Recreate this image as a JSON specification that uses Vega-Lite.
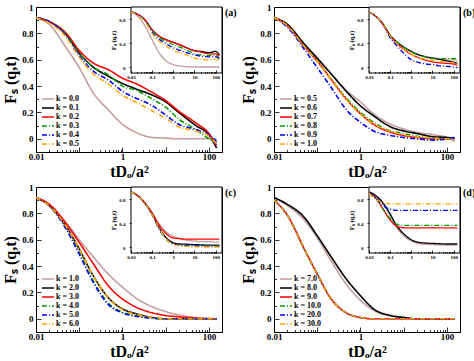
{
"$schema": "https://vega.github.io/schema/vega-lite/v6.json",
"padding": {"left": 2, "top": 2, "right": 0, "bottom": 0},
"background": "white",
"columns": 2,
"spacing": {"row": 35, "column": 52},
"bounds": "flush",
"data": {"values": [
{"p":"a","m":"M","k":"0.0","t":0.01,"f":0.92},{"p":"a","m":"M","k":"0.0","t":0.02,"f":0.87},{"p":"a","m":"M","k":"0.0","t":0.05,"f":0.69},{"p":"a","m":"M","k":"0.0","t":0.1,"f":0.54},{"p":"a","m":"M","k":"0.0","t":0.2,"f":0.36},{"p":"a","m":"M","k":"0.0","t":0.5,"f":0.21},{"p":"a","m":"M","k":"0.0","t":1,"f":0.11},{"p":"a","m":"M","k":"0.0","t":2,"f":0.05},{"p":"a","m":"M","k":"0.0","t":5,"f":0.01},{"p":"a","m":"M","k":"0.0","t":10,"f":0.005},{"p":"a","m":"M","k":"0.0","t":20,"f":0},{"p":"a","m":"M","k":"0.0","t":50,"f":0},{"p":"a","m":"M","k":"0.0","t":100,"f":0},{"p":"a","m":"M","k":"0.0","t":150,"f":0},
{"p":"a","m":"M","k":"0.1","t":0.01,"f":0.92},{"p":"a","m":"M","k":"0.1","t":0.02,"f":0.89},{"p":"a","m":"M","k":"0.1","t":0.05,"f":0.79},{"p":"a","m":"M","k":"0.1","t":0.1,"f":0.65},{"p":"a","m":"M","k":"0.1","t":0.2,"f":0.55},{"p":"a","m":"M","k":"0.1","t":0.5,"f":0.47},{"p":"a","m":"M","k":"0.1","t":1,"f":0.42},{"p":"a","m":"M","k":"0.1","t":2,"f":0.38},{"p":"a","m":"M","k":"0.1","t":5,"f":0.33},{"p":"a","m":"M","k":"0.1","t":10,"f":0.28},{"p":"a","m":"M","k":"0.1","t":20,"f":0.2},{"p":"a","m":"M","k":"0.1","t":50,"f":0.1},{"p":"a","m":"M","k":"0.1","t":100,"f":0.03},{"p":"a","m":"M","k":"0.1","t":150,"f":-0.07},
{"p":"a","m":"M","k":"0.2","t":0.01,"f":0.92},{"p":"a","m":"M","k":"0.2","t":0.02,"f":0.89},{"p":"a","m":"M","k":"0.2","t":0.05,"f":0.8},{"p":"a","m":"M","k":"0.2","t":0.1,"f":0.67},{"p":"a","m":"M","k":"0.2","t":0.2,"f":0.58},{"p":"a","m":"M","k":"0.2","t":0.5,"f":0.52},{"p":"a","m":"M","k":"0.2","t":1,"f":0.46},{"p":"a","m":"M","k":"0.2","t":2,"f":0.42},{"p":"a","m":"M","k":"0.2","t":5,"f":0.35},{"p":"a","m":"M","k":"0.2","t":10,"f":0.29},{"p":"a","m":"M","k":"0.2","t":20,"f":0.21},{"p":"a","m":"M","k":"0.2","t":50,"f":0.12},{"p":"a","m":"M","k":"0.2","t":100,"f":0.04},{"p":"a","m":"M","k":"0.2","t":150,"f":-0.05},
{"p":"a","m":"M","k":"0.3","t":0.01,"f":0.92},{"p":"a","m":"M","k":"0.3","t":0.02,"f":0.89},{"p":"a","m":"M","k":"0.3","t":0.05,"f":0.79},{"p":"a","m":"M","k":"0.3","t":0.1,"f":0.65},{"p":"a","m":"M","k":"0.3","t":0.2,"f":0.55},{"p":"a","m":"M","k":"0.3","t":0.5,"f":0.48},{"p":"a","m":"M","k":"0.3","t":1,"f":0.4},{"p":"a","m":"M","k":"0.3","t":2,"f":0.37},{"p":"a","m":"M","k":"0.3","t":5,"f":0.3},{"p":"a","m":"M","k":"0.3","t":10,"f":0.24},{"p":"a","m":"M","k":"0.3","t":20,"f":0.15},{"p":"a","m":"M","k":"0.3","t":50,"f":0.07},{"p":"a","m":"M","k":"0.3","t":100,"f":0},{"p":"a","m":"M","k":"0.3","t":150,"f":-0.03},
{"p":"a","m":"M","k":"0.4","t":0.01,"f":0.92},{"p":"a","m":"M","k":"0.4","t":0.02,"f":0.89},{"p":"a","m":"M","k":"0.4","t":0.05,"f":0.78},{"p":"a","m":"M","k":"0.4","t":0.1,"f":0.63},{"p":"a","m":"M","k":"0.4","t":0.2,"f":0.52},{"p":"a","m":"M","k":"0.4","t":0.5,"f":0.44},{"p":"a","m":"M","k":"0.4","t":1,"f":0.36},{"p":"a","m":"M","k":"0.4","t":2,"f":0.31},{"p":"a","m":"M","k":"0.4","t":5,"f":0.25},{"p":"a","m":"M","k":"0.4","t":10,"f":0.18},{"p":"a","m":"M","k":"0.4","t":20,"f":0.11},{"p":"a","m":"M","k":"0.4","t":50,"f":0.07},{"p":"a","m":"M","k":"0.4","t":100,"f":0.03},{"p":"a","m":"M","k":"0.4","t":150,"f":-0.02},
{"p":"a","m":"M","k":"0.5","t":0.01,"f":0.92},{"p":"a","m":"M","k":"0.5","t":0.02,"f":0.88},{"p":"a","m":"M","k":"0.5","t":0.05,"f":0.77},{"p":"a","m":"M","k":"0.5","t":0.1,"f":0.62},{"p":"a","m":"M","k":"0.5","t":0.2,"f":0.5},{"p":"a","m":"M","k":"0.5","t":0.5,"f":0.41},{"p":"a","m":"M","k":"0.5","t":1,"f":0.33},{"p":"a","m":"M","k":"0.5","t":2,"f":0.28},{"p":"a","m":"M","k":"0.5","t":5,"f":0.21},{"p":"a","m":"M","k":"0.5","t":10,"f":0.155},{"p":"a","m":"M","k":"0.5","t":20,"f":0.09},{"p":"a","m":"M","k":"0.5","t":50,"f":0.06},{"p":"a","m":"M","k":"0.5","t":100,"f":0.02},{"p":"a","m":"M","k":"0.5","t":150,"f":-0.04},
{"p":"a","m":"I","k":"0.0","t":0.01,"f":0.92},{"p":"a","m":"I","k":"0.0","t":0.02,"f":0.85},{"p":"a","m":"I","k":"0.0","t":0.05,"f":0.66},{"p":"a","m":"I","k":"0.0","t":0.1,"f":0.45},{"p":"a","m":"I","k":"0.0","t":0.2,"f":0.25},{"p":"a","m":"I","k":"0.0","t":0.5,"f":0.09},{"p":"a","m":"I","k":"0.0","t":1,"f":0.04},{"p":"a","m":"I","k":"0.0","t":2,"f":0.015},{"p":"a","m":"I","k":"0.0","t":5,"f":0.005},{"p":"a","m":"I","k":"0.0","t":10,"f":0},{"p":"a","m":"I","k":"0.0","t":20,"f":0},{"p":"a","m":"I","k":"0.0","t":50,"f":0},{"p":"a","m":"I","k":"0.0","t":100,"f":0},{"p":"a","m":"I","k":"0.0","t":150,"f":0},
{"p":"a","m":"I","k":"0.1","t":0.01,"f":0.92},{"p":"a","m":"I","k":"0.1","t":0.02,"f":0.88},{"p":"a","m":"I","k":"0.1","t":0.05,"f":0.77},{"p":"a","m":"I","k":"0.1","t":0.1,"f":0.62},{"p":"a","m":"I","k":"0.1","t":0.2,"f":0.52},{"p":"a","m":"I","k":"0.1","t":0.5,"f":0.45},{"p":"a","m":"I","k":"0.1","t":1,"f":0.41},{"p":"a","m":"I","k":"0.1","t":2,"f":0.37},{"p":"a","m":"I","k":"0.1","t":5,"f":0.31},{"p":"a","m":"I","k":"0.1","t":10,"f":0.27},{"p":"a","m":"I","k":"0.1","t":20,"f":0.26},{"p":"a","m":"I","k":"0.1","t":50,"f":0.24},{"p":"a","m":"I","k":"0.1","t":100,"f":0.26},{"p":"a","m":"I","k":"0.1","t":150,"f":0.2},
{"p":"a","m":"I","k":"0.2","t":0.01,"f":0.92},{"p":"a","m":"I","k":"0.2","t":0.02,"f":0.88},{"p":"a","m":"I","k":"0.2","t":0.05,"f":0.77},{"p":"a","m":"I","k":"0.2","t":0.1,"f":0.62},{"p":"a","m":"I","k":"0.2","t":0.2,"f":0.52},{"p":"a","m":"I","k":"0.2","t":0.5,"f":0.45},{"p":"a","m":"I","k":"0.2","t":1,"f":0.41},{"p":"a","m":"I","k":"0.2","t":2,"f":0.37},{"p":"a","m":"I","k":"0.2","t":5,"f":0.31},{"p":"a","m":"I","k":"0.2","t":10,"f":0.27},{"p":"a","m":"I","k":"0.2","t":20,"f":0.25},{"p":"a","m":"I","k":"0.2","t":50,"f":0.22},{"p":"a","m":"I","k":"0.2","t":100,"f":0.22},{"p":"a","m":"I","k":"0.2","t":150,"f":0.18},
{"p":"a","m":"I","k":"0.3","t":0.01,"f":0.92},{"p":"a","m":"I","k":"0.3","t":0.02,"f":0.88},{"p":"a","m":"I","k":"0.3","t":0.05,"f":0.76},{"p":"a","m":"I","k":"0.3","t":0.1,"f":0.61},{"p":"a","m":"I","k":"0.3","t":0.2,"f":0.5},{"p":"a","m":"I","k":"0.3","t":0.5,"f":0.42},{"p":"a","m":"I","k":"0.3","t":1,"f":0.37},{"p":"a","m":"I","k":"0.3","t":2,"f":0.33},{"p":"a","m":"I","k":"0.3","t":5,"f":0.27},{"p":"a","m":"I","k":"0.3","t":10,"f":0.22},{"p":"a","m":"I","k":"0.3","t":20,"f":0.2},{"p":"a","m":"I","k":"0.3","t":50,"f":0.19},{"p":"a","m":"I","k":"0.3","t":100,"f":0.2},{"p":"a","m":"I","k":"0.3","t":150,"f":0.12},
{"p":"a","m":"I","k":"0.4","t":0.01,"f":0.92},{"p":"a","m":"I","k":"0.4","t":0.02,"f":0.88},{"p":"a","m":"I","k":"0.4","t":0.05,"f":0.75},{"p":"a","m":"I","k":"0.4","t":0.1,"f":0.58},{"p":"a","m":"I","k":"0.4","t":0.2,"f":0.47},{"p":"a","m":"I","k":"0.4","t":0.5,"f":0.38},{"p":"a","m":"I","k":"0.4","t":1,"f":0.32},{"p":"a","m":"I","k":"0.4","t":2,"f":0.28},{"p":"a","m":"I","k":"0.4","t":5,"f":0.23},{"p":"a","m":"I","k":"0.4","t":10,"f":0.2},{"p":"a","m":"I","k":"0.4","t":20,"f":0.18},{"p":"a","m":"I","k":"0.4","t":50,"f":0.17},{"p":"a","m":"I","k":"0.4","t":100,"f":0.17},{"p":"a","m":"I","k":"0.4","t":150,"f":0.15},
{"p":"a","m":"I","k":"0.5","t":0.01,"f":0.92},{"p":"a","m":"I","k":"0.5","t":0.02,"f":0.87},{"p":"a","m":"I","k":"0.5","t":0.05,"f":0.74},{"p":"a","m":"I","k":"0.5","t":0.1,"f":0.56},{"p":"a","m":"I","k":"0.5","t":0.2,"f":0.44},{"p":"a","m":"I","k":"0.5","t":0.5,"f":0.34},{"p":"a","m":"I","k":"0.5","t":1,"f":0.28},{"p":"a","m":"I","k":"0.5","t":2,"f":0.24},{"p":"a","m":"I","k":"0.5","t":5,"f":0.19},{"p":"a","m":"I","k":"0.5","t":10,"f":0.15},{"p":"a","m":"I","k":"0.5","t":20,"f":0.13},{"p":"a","m":"I","k":"0.5","t":50,"f":0.12},{"p":"a","m":"I","k":"0.5","t":100,"f":0.13},{"p":"a","m":"I","k":"0.5","t":150,"f":0.1},
{"p":"b","m":"M","k":"0.5","t":0.01,"f":0.92},{"p":"b","m":"M","k":"0.5","t":0.02,"f":0.87},{"p":"b","m":"M","k":"0.5","t":0.05,"f":0.72},{"p":"b","m":"M","k":"0.5","t":0.1,"f":0.615},{"p":"b","m":"M","k":"0.5","t":0.2,"f":0.5},{"p":"b","m":"M","k":"0.5","t":0.5,"f":0.36},{"p":"b","m":"M","k":"0.5","t":1,"f":0.28},{"p":"b","m":"M","k":"0.5","t":2,"f":0.19},{"p":"b","m":"M","k":"0.5","t":5,"f":0.11},{"p":"b","m":"M","k":"0.5","t":10,"f":0.075},{"p":"b","m":"M","k":"0.5","t":20,"f":0.05},{"p":"b","m":"M","k":"0.5","t":50,"f":0.03},{"p":"b","m":"M","k":"0.5","t":100,"f":0.01},{"p":"b","m":"M","k":"0.5","t":150,"f":-0.02},
{"p":"b","m":"M","k":"0.6","t":0.01,"f":0.92},{"p":"b","m":"M","k":"0.6","t":0.02,"f":0.87},{"p":"b","m":"M","k":"0.6","t":0.05,"f":0.72},{"p":"b","m":"M","k":"0.6","t":0.1,"f":0.61},{"p":"b","m":"M","k":"0.6","t":0.2,"f":0.5},{"p":"b","m":"M","k":"0.6","t":0.5,"f":0.35},{"p":"b","m":"M","k":"0.6","t":1,"f":0.25},{"p":"b","m":"M","k":"0.6","t":2,"f":0.175},{"p":"b","m":"M","k":"0.6","t":5,"f":0.09},{"p":"b","m":"M","k":"0.6","t":10,"f":0.06},{"p":"b","m":"M","k":"0.6","t":20,"f":0.04},{"p":"b","m":"M","k":"0.6","t":50,"f":0.015},{"p":"b","m":"M","k":"0.6","t":100,"f":0.01},{"p":"b","m":"M","k":"0.6","t":150,"f":0},
{"p":"b","m":"M","k":"0.7","t":0.01,"f":0.92},{"p":"b","m":"M","k":"0.7","t":0.02,"f":0.86},{"p":"b","m":"M","k":"0.7","t":0.05,"f":0.7},{"p":"b","m":"M","k":"0.7","t":0.1,"f":0.59},{"p":"b","m":"M","k":"0.7","t":0.2,"f":0.46},{"p":"b","m":"M","k":"0.7","t":0.5,"f":0.29},{"p":"b","m":"M","k":"0.7","t":1,"f":0.19},{"p":"b","m":"M","k":"0.7","t":2,"f":0.11},{"p":"b","m":"M","k":"0.7","t":5,"f":0.05},{"p":"b","m":"M","k":"0.7","t":10,"f":0.025},{"p":"b","m":"M","k":"0.7","t":20,"f":0.01},{"p":"b","m":"M","k":"0.7","t":50,"f":0},{"p":"b","m":"M","k":"0.7","t":100,"f":0},{"p":"b","m":"M","k":"0.7","t":150,"f":0.01},
{"p":"b","m":"M","k":"0.8","t":0.01,"f":0.92},{"p":"b","m":"M","k":"0.8","t":0.02,"f":0.86},{"p":"b","m":"M","k":"0.8","t":0.05,"f":0.7},{"p":"b","m":"M","k":"0.8","t":0.1,"f":0.59},{"p":"b","m":"M","k":"0.8","t":0.2,"f":0.46},{"p":"b","m":"M","k":"0.8","t":0.5,"f":0.3},{"p":"b","m":"M","k":"0.8","t":1,"f":0.2},{"p":"b","m":"M","k":"0.8","t":2,"f":0.125},{"p":"b","m":"M","k":"0.8","t":5,"f":0.06},{"p":"b","m":"M","k":"0.8","t":10,"f":0.04},{"p":"b","m":"M","k":"0.8","t":20,"f":0.02},{"p":"b","m":"M","k":"0.8","t":50,"f":0.005},{"p":"b","m":"M","k":"0.8","t":100,"f":0},{"p":"b","m":"M","k":"0.8","t":150,"f":0.02},
{"p":"b","m":"M","k":"0.9","t":0.01,"f":0.92},{"p":"b","m":"M","k":"0.9","t":0.02,"f":0.85},{"p":"b","m":"M","k":"0.9","t":0.05,"f":0.68},{"p":"b","m":"M","k":"0.9","t":0.1,"f":0.54},{"p":"b","m":"M","k":"0.9","t":0.2,"f":0.4},{"p":"b","m":"M","k":"0.9","t":0.5,"f":0.21},{"p":"b","m":"M","k":"0.9","t":1,"f":0.125},{"p":"b","m":"M","k":"0.9","t":2,"f":0.06},{"p":"b","m":"M","k":"0.9","t":5,"f":0.025},{"p":"b","m":"M","k":"0.9","t":10,"f":0.01},{"p":"b","m":"M","k":"0.9","t":20,"f":0},{"p":"b","m":"M","k":"0.9","t":50,"f":-0.01},{"p":"b","m":"M","k":"0.9","t":100,"f":0},{"p":"b","m":"M","k":"0.9","t":150,"f":0.01},
{"p":"b","m":"M","k":"1.0","t":0.01,"f":0.92},{"p":"b","m":"M","k":"1.0","t":0.02,"f":0.86},{"p":"b","m":"M","k":"1.0","t":0.05,"f":0.7},{"p":"b","m":"M","k":"1.0","t":0.1,"f":0.59},{"p":"b","m":"M","k":"1.0","t":0.2,"f":0.46},{"p":"b","m":"M","k":"1.0","t":0.5,"f":0.29},{"p":"b","m":"M","k":"1.0","t":1,"f":0.19},{"p":"b","m":"M","k":"1.0","t":2,"f":0.115},{"p":"b","m":"M","k":"1.0","t":5,"f":0.055},{"p":"b","m":"M","k":"1.0","t":10,"f":0.03},{"p":"b","m":"M","k":"1.0","t":20,"f":0.015},{"p":"b","m":"M","k":"1.0","t":50,"f":0.005},{"p":"b","m":"M","k":"1.0","t":100,"f":0},{"p":"b","m":"M","k":"1.0","t":150,"f":0},
{"p":"b","m":"I","k":"0.5","t":0.01,"f":0.92},{"p":"b","m":"I","k":"0.5","t":0.02,"f":0.85},{"p":"b","m":"I","k":"0.5","t":0.05,"f":0.7},{"p":"b","m":"I","k":"0.5","t":0.1,"f":0.53},{"p":"b","m":"I","k":"0.5","t":0.2,"f":0.42},{"p":"b","m":"I","k":"0.5","t":0.5,"f":0.32},{"p":"b","m":"I","k":"0.5","t":1,"f":0.26},{"p":"b","m":"I","k":"0.5","t":2,"f":0.21},{"p":"b","m":"I","k":"0.5","t":5,"f":0.16},{"p":"b","m":"I","k":"0.5","t":10,"f":0.14},{"p":"b","m":"I","k":"0.5","t":20,"f":0.13},{"p":"b","m":"I","k":"0.5","t":50,"f":0.12},{"p":"b","m":"I","k":"0.5","t":100,"f":0.12},{"p":"b","m":"I","k":"0.5","t":150,"f":0.11},
{"p":"b","m":"I","k":"0.6","t":0.01,"f":0.92},{"p":"b","m":"I","k":"0.6","t":0.02,"f":0.85},{"p":"b","m":"I","k":"0.6","t":0.05,"f":0.7},{"p":"b","m":"I","k":"0.6","t":0.1,"f":0.53},{"p":"b","m":"I","k":"0.6","t":0.2,"f":0.42},{"p":"b","m":"I","k":"0.6","t":0.5,"f":0.32},{"p":"b","m":"I","k":"0.6","t":1,"f":0.26},{"p":"b","m":"I","k":"0.6","t":2,"f":0.21},{"p":"b","m":"I","k":"0.6","t":5,"f":0.17},{"p":"b","m":"I","k":"0.6","t":10,"f":0.15},{"p":"b","m":"I","k":"0.6","t":20,"f":0.13},{"p":"b","m":"I","k":"0.6","t":50,"f":0.1},{"p":"b","m":"I","k":"0.6","t":100,"f":0.08},{"p":"b","m":"I","k":"0.6","t":150,"f":0.06},
{"p":"b","m":"I","k":"0.7","t":0.01,"f":0.92},{"p":"b","m":"I","k":"0.7","t":0.02,"f":0.85},{"p":"b","m":"I","k":"0.7","t":0.05,"f":0.69},{"p":"b","m":"I","k":"0.7","t":0.1,"f":0.52},{"p":"b","m":"I","k":"0.7","t":0.2,"f":0.4},{"p":"b","m":"I","k":"0.7","t":0.5,"f":0.28},{"p":"b","m":"I","k":"0.7","t":1,"f":0.21},{"p":"b","m":"I","k":"0.7","t":2,"f":0.16},{"p":"b","m":"I","k":"0.7","t":5,"f":0.11},{"p":"b","m":"I","k":"0.7","t":10,"f":0.085},{"p":"b","m":"I","k":"0.7","t":20,"f":0.07},{"p":"b","m":"I","k":"0.7","t":50,"f":0.06},{"p":"b","m":"I","k":"0.7","t":100,"f":0.05},{"p":"b","m":"I","k":"0.7","t":150,"f":0.03},
{"p":"b","m":"I","k":"0.8","t":0.01,"f":0.92},{"p":"b","m":"I","k":"0.8","t":0.02,"f":0.85},{"p":"b","m":"I","k":"0.8","t":0.05,"f":0.7},{"p":"b","m":"I","k":"0.8","t":0.1,"f":0.53},{"p":"b","m":"I","k":"0.8","t":0.2,"f":0.42},{"p":"b","m":"I","k":"0.8","t":0.5,"f":0.31},{"p":"b","m":"I","k":"0.8","t":1,"f":0.25},{"p":"b","m":"I","k":"0.8","t":2,"f":0.2},{"p":"b","m":"I","k":"0.8","t":5,"f":0.17},{"p":"b","m":"I","k":"0.8","t":10,"f":0.15},{"p":"b","m":"I","k":"0.8","t":20,"f":0.145},{"p":"b","m":"I","k":"0.8","t":50,"f":0.14},{"p":"b","m":"I","k":"0.8","t":100,"f":0.14},{"p":"b","m":"I","k":"0.8","t":150,"f":0.14},
{"p":"b","m":"I","k":"0.9","t":0.01,"f":0.92},{"p":"b","m":"I","k":"0.9","t":0.02,"f":0.85},{"p":"b","m":"I","k":"0.9","t":0.05,"f":0.68},{"p":"b","m":"I","k":"0.9","t":0.1,"f":0.49},{"p":"b","m":"I","k":"0.9","t":0.2,"f":0.36},{"p":"b","m":"I","k":"0.9","t":0.5,"f":0.21},{"p":"b","m":"I","k":"0.9","t":1,"f":0.12},{"p":"b","m":"I","k":"0.9","t":2,"f":0.08},{"p":"b","m":"I","k":"0.9","t":5,"f":0.05},{"p":"b","m":"I","k":"0.9","t":10,"f":0.04},{"p":"b","m":"I","k":"0.9","t":20,"f":0.02},{"p":"b","m":"I","k":"0.9","t":50,"f":0.01},{"p":"b","m":"I","k":"0.9","t":100,"f":0},{"p":"b","m":"I","k":"0.9","t":150,"f":-0.01},
{"p":"b","m":"I","k":"1.0","t":0.01,"f":0.92},{"p":"b","m":"I","k":"1.0","t":0.02,"f":0.85},{"p":"b","m":"I","k":"1.0","t":0.05,"f":0.69},{"p":"b","m":"I","k":"1.0","t":0.1,"f":0.52},{"p":"b","m":"I","k":"1.0","t":0.2,"f":0.4},{"p":"b","m":"I","k":"1.0","t":0.5,"f":0.28},{"p":"b","m":"I","k":"1.0","t":1,"f":0.21},{"p":"b","m":"I","k":"1.0","t":2,"f":0.16},{"p":"b","m":"I","k":"1.0","t":5,"f":0.13},{"p":"b","m":"I","k":"1.0","t":10,"f":0.11},{"p":"b","m":"I","k":"1.0","t":20,"f":0.1},{"p":"b","m":"I","k":"1.0","t":50,"f":0.08},{"p":"b","m":"I","k":"1.0","t":100,"f":0.07},{"p":"b","m":"I","k":"1.0","t":150,"f":0.05},
{"p":"c","m":"M","k":"1.0","t":0.01,"f":0.92},{"p":"c","m":"M","k":"1.0","t":0.02,"f":0.87},{"p":"c","m":"M","k":"1.0","t":0.05,"f":0.73},{"p":"c","m":"M","k":"1.0","t":0.1,"f":0.6},{"p":"c","m":"M","k":"1.0","t":0.2,"f":0.48},{"p":"c","m":"M","k":"1.0","t":0.5,"f":0.33},{"p":"c","m":"M","k":"1.0","t":1,"f":0.24},{"p":"c","m":"M","k":"1.0","t":2,"f":0.16},{"p":"c","m":"M","k":"1.0","t":5,"f":0.09},{"p":"c","m":"M","k":"1.0","t":10,"f":0.055},{"p":"c","m":"M","k":"1.0","t":20,"f":0.03},{"p":"c","m":"M","k":"1.0","t":50,"f":0.01},{"p":"c","m":"M","k":"1.0","t":100,"f":0.005},{"p":"c","m":"M","k":"1.0","t":150,"f":0},
{"p":"c","m":"M","k":"2.0","t":0.01,"f":0.92},{"p":"c","m":"M","k":"2.0","t":0.02,"f":0.86},{"p":"c","m":"M","k":"2.0","t":0.05,"f":0.7},{"p":"c","m":"M","k":"2.0","t":0.1,"f":0.53},{"p":"c","m":"M","k":"2.0","t":0.2,"f":0.34},{"p":"c","m":"M","k":"2.0","t":0.5,"f":0.15},{"p":"c","m":"M","k":"2.0","t":1,"f":0.075},{"p":"c","m":"M","k":"2.0","t":2,"f":0.04},{"p":"c","m":"M","k":"2.0","t":5,"f":0.01},{"p":"c","m":"M","k":"2.0","t":10,"f":0},{"p":"c","m":"M","k":"2.0","t":20,"f":0},{"p":"c","m":"M","k":"2.0","t":50,"f":0},{"p":"c","m":"M","k":"2.0","t":100,"f":0},{"p":"c","m":"M","k":"2.0","t":150,"f":0},
{"p":"c","m":"M","k":"3.0","t":0.01,"f":0.92},{"p":"c","m":"M","k":"3.0","t":0.02,"f":0.87},{"p":"c","m":"M","k":"3.0","t":0.05,"f":0.72},{"p":"c","m":"M","k":"3.0","t":0.1,"f":0.58},{"p":"c","m":"M","k":"3.0","t":0.2,"f":0.43},{"p":"c","m":"M","k":"3.0","t":0.5,"f":0.24},{"p":"c","m":"M","k":"3.0","t":1,"f":0.15},{"p":"c","m":"M","k":"3.0","t":2,"f":0.09},{"p":"c","m":"M","k":"3.0","t":5,"f":0.045},{"p":"c","m":"M","k":"3.0","t":10,"f":0.025},{"p":"c","m":"M","k":"3.0","t":20,"f":0.015},{"p":"c","m":"M","k":"3.0","t":50,"f":0.005},{"p":"c","m":"M","k":"3.0","t":100,"f":0},{"p":"c","m":"M","k":"3.0","t":150,"f":0},
{"p":"c","m":"M","k":"4.0","t":0.01,"f":0.92},{"p":"c","m":"M","k":"4.0","t":0.02,"f":0.86},{"p":"c","m":"M","k":"4.0","t":0.05,"f":0.69},{"p":"c","m":"M","k":"4.0","t":0.1,"f":0.5},{"p":"c","m":"M","k":"4.0","t":0.2,"f":0.3},{"p":"c","m":"M","k":"4.0","t":0.5,"f":0.11},{"p":"c","m":"M","k":"4.0","t":1,"f":0.05},{"p":"c","m":"M","k":"4.0","t":2,"f":0.025},{"p":"c","m":"M","k":"4.0","t":5,"f":0.005},{"p":"c","m":"M","k":"4.0","t":10,"f":0},{"p":"c","m":"M","k":"4.0","t":20,"f":0},{"p":"c","m":"M","k":"4.0","t":50,"f":0},{"p":"c","m":"M","k":"4.0","t":100,"f":0},{"p":"c","m":"M","k":"4.0","t":150,"f":0},
{"p":"c","m":"M","k":"5.0","t":0.01,"f":0.92},{"p":"c","m":"M","k":"5.0","t":0.02,"f":0.86},{"p":"c","m":"M","k":"5.0","t":0.05,"f":0.68},{"p":"c","m":"M","k":"5.0","t":0.1,"f":0.49},{"p":"c","m":"M","k":"5.0","t":0.2,"f":0.29},{"p":"c","m":"M","k":"5.0","t":0.5,"f":0.1},{"p":"c","m":"M","k":"5.0","t":1,"f":0.045},{"p":"c","m":"M","k":"5.0","t":2,"f":0.02},{"p":"c","m":"M","k":"5.0","t":5,"f":0.005},{"p":"c","m":"M","k":"5.0","t":10,"f":0},{"p":"c","m":"M","k":"5.0","t":20,"f":0},{"p":"c","m":"M","k":"5.0","t":50,"f":0},{"p":"c","m":"M","k":"5.0","t":100,"f":0},{"p":"c","m":"M","k":"5.0","t":150,"f":0},
{"p":"c","m":"M","k":"6.0","t":0.01,"f":0.92},{"p":"c","m":"M","k":"6.0","t":0.02,"f":0.86},{"p":"c","m":"M","k":"6.0","t":0.05,"f":0.7},{"p":"c","m":"M","k":"6.0","t":0.1,"f":0.53},{"p":"c","m":"M","k":"6.0","t":0.2,"f":0.34},{"p":"c","m":"M","k":"6.0","t":0.5,"f":0.15},{"p":"c","m":"M","k":"6.0","t":1,"f":0.07},{"p":"c","m":"M","k":"6.0","t":2,"f":0.035},{"p":"c","m":"M","k":"6.0","t":5,"f":0.01},{"p":"c","m":"M","k":"6.0","t":10,"f":0},{"p":"c","m":"M","k":"6.0","t":20,"f":0},{"p":"c","m":"M","k":"6.0","t":50,"f":0},{"p":"c","m":"M","k":"6.0","t":100,"f":0},{"p":"c","m":"M","k":"6.0","t":150,"f":0},
{"p":"c","m":"I","k":"1.0","t":0.01,"f":0.92},{"p":"c","m":"I","k":"1.0","t":0.02,"f":0.86},{"p":"c","m":"I","k":"1.0","t":0.05,"f":0.72},{"p":"c","m":"I","k":"1.0","t":0.1,"f":0.58},{"p":"c","m":"I","k":"1.0","t":0.2,"f":0.4},{"p":"c","m":"I","k":"1.0","t":0.5,"f":0.24},{"p":"c","m":"I","k":"1.0","t":1,"f":0.18},{"p":"c","m":"I","k":"1.0","t":2,"f":0.14},{"p":"c","m":"I","k":"1.0","t":5,"f":0.11},{"p":"c","m":"I","k":"1.0","t":10,"f":0.1},{"p":"c","m":"I","k":"1.0","t":20,"f":0.09},{"p":"c","m":"I","k":"1.0","t":50,"f":0.09},{"p":"c","m":"I","k":"1.0","t":100,"f":0.08},{"p":"c","m":"I","k":"1.0","t":150,"f":0.08},
{"p":"c","m":"I","k":"2.0","t":0.01,"f":0.92},{"p":"c","m":"I","k":"2.0","t":0.02,"f":0.86},{"p":"c","m":"I","k":"2.0","t":0.05,"f":0.71},{"p":"c","m":"I","k":"2.0","t":0.1,"f":0.55},{"p":"c","m":"I","k":"2.0","t":0.2,"f":0.34},{"p":"c","m":"I","k":"2.0","t":0.5,"f":0.14},{"p":"c","m":"I","k":"2.0","t":1,"f":0.07},{"p":"c","m":"I","k":"2.0","t":2,"f":0.05},{"p":"c","m":"I","k":"2.0","t":5,"f":0.045},{"p":"c","m":"I","k":"2.0","t":10,"f":0.04},{"p":"c","m":"I","k":"2.0","t":20,"f":0.035},{"p":"c","m":"I","k":"2.0","t":50,"f":0.03},{"p":"c","m":"I","k":"2.0","t":100,"f":0.03},{"p":"c","m":"I","k":"2.0","t":150,"f":0.03},
{"p":"c","m":"I","k":"3.0","t":0.01,"f":0.92},{"p":"c","m":"I","k":"3.0","t":0.02,"f":0.86},{"p":"c","m":"I","k":"3.0","t":0.05,"f":0.72},{"p":"c","m":"I","k":"3.0","t":0.1,"f":0.56},{"p":"c","m":"I","k":"3.0","t":0.2,"f":0.38},{"p":"c","m":"I","k":"3.0","t":0.5,"f":0.21},{"p":"c","m":"I","k":"3.0","t":1,"f":0.15},{"p":"c","m":"I","k":"3.0","t":2,"f":0.14},{"p":"c","m":"I","k":"3.0","t":5,"f":0.13},{"p":"c","m":"I","k":"3.0","t":10,"f":0.13},{"p":"c","m":"I","k":"3.0","t":20,"f":0.13},{"p":"c","m":"I","k":"3.0","t":50,"f":0.13},{"p":"c","m":"I","k":"3.0","t":100,"f":0.13},{"p":"c","m":"I","k":"3.0","t":150,"f":0.13},
{"p":"c","m":"I","k":"4.0","t":0.01,"f":0.92},{"p":"c","m":"I","k":"4.0","t":0.02,"f":0.86},{"p":"c","m":"I","k":"4.0","t":0.05,"f":0.71},{"p":"c","m":"I","k":"4.0","t":0.1,"f":0.54},{"p":"c","m":"I","k":"4.0","t":0.2,"f":0.32},{"p":"c","m":"I","k":"4.0","t":0.5,"f":0.12},{"p":"c","m":"I","k":"4.0","t":1,"f":0.05},{"p":"c","m":"I","k":"4.0","t":2,"f":0.03},{"p":"c","m":"I","k":"4.0","t":5,"f":0.025},{"p":"c","m":"I","k":"4.0","t":10,"f":0.02},{"p":"c","m":"I","k":"4.0","t":20,"f":0.02},{"p":"c","m":"I","k":"4.0","t":50,"f":0.02},{"p":"c","m":"I","k":"4.0","t":100,"f":0.02},{"p":"c","m":"I","k":"4.0","t":150,"f":0.02},
{"p":"c","m":"I","k":"5.0","t":0.01,"f":0.92},{"p":"c","m":"I","k":"5.0","t":0.02,"f":0.86},{"p":"c","m":"I","k":"5.0","t":0.05,"f":0.71},{"p":"c","m":"I","k":"5.0","t":0.1,"f":0.54},{"p":"c","m":"I","k":"5.0","t":0.2,"f":0.32},{"p":"c","m":"I","k":"5.0","t":0.5,"f":0.12},{"p":"c","m":"I","k":"5.0","t":1,"f":0.05},{"p":"c","m":"I","k":"5.0","t":2,"f":0.03},{"p":"c","m":"I","k":"5.0","t":5,"f":0.02},{"p":"c","m":"I","k":"5.0","t":10,"f":0.02},{"p":"c","m":"I","k":"5.0","t":20,"f":0.015},{"p":"c","m":"I","k":"5.0","t":50,"f":0.01},{"p":"c","m":"I","k":"5.0","t":100,"f":0.01},{"p":"c","m":"I","k":"5.0","t":150,"f":0.01},
{"p":"c","m":"I","k":"6.0","t":0.01,"f":0.92},{"p":"c","m":"I","k":"6.0","t":0.02,"f":0.86},{"p":"c","m":"I","k":"6.0","t":0.05,"f":0.71},{"p":"c","m":"I","k":"6.0","t":0.1,"f":0.54},{"p":"c","m":"I","k":"6.0","t":0.2,"f":0.33},{"p":"c","m":"I","k":"6.0","t":0.5,"f":0.12},{"p":"c","m":"I","k":"6.0","t":1,"f":0.04},{"p":"c","m":"I","k":"6.0","t":2,"f":0.02},{"p":"c","m":"I","k":"6.0","t":5,"f":0.01},{"p":"c","m":"I","k":"6.0","t":10,"f":0.005},{"p":"c","m":"I","k":"6.0","t":20,"f":0},{"p":"c","m":"I","k":"6.0","t":50,"f":0},{"p":"c","m":"I","k":"6.0","t":100,"f":0},{"p":"c","m":"I","k":"6.0","t":150,"f":0},
{"p":"d","m":"M","k":"7.0","t":0.01,"f":0.92},{"p":"d","m":"M","k":"7.0","t":0.02,"f":0.86},{"p":"d","m":"M","k":"7.0","t":0.05,"f":0.75},{"p":"d","m":"M","k":"7.0","t":0.1,"f":0.615},{"p":"d","m":"M","k":"7.0","t":0.2,"f":0.45},{"p":"d","m":"M","k":"7.0","t":0.5,"f":0.25},{"p":"d","m":"M","k":"7.0","t":1,"f":0.14},{"p":"d","m":"M","k":"7.0","t":2,"f":0.065},{"p":"d","m":"M","k":"7.0","t":5,"f":0.02},{"p":"d","m":"M","k":"7.0","t":10,"f":0.01},{"p":"d","m":"M","k":"7.0","t":20,"f":0},{"p":"d","m":"M","k":"7.0","t":50,"f":0},{"p":"d","m":"M","k":"7.0","t":100,"f":0},{"p":"d","m":"M","k":"7.0","t":150,"f":0},
{"p":"d","m":"M","k":"8.0","t":0.01,"f":0.92},{"p":"d","m":"M","k":"8.0","t":0.02,"f":0.87},{"p":"d","m":"M","k":"8.0","t":0.05,"f":0.77},{"p":"d","m":"M","k":"8.0","t":0.1,"f":0.63},{"p":"d","m":"M","k":"8.0","t":0.2,"f":0.48},{"p":"d","m":"M","k":"8.0","t":0.5,"f":0.29},{"p":"d","m":"M","k":"8.0","t":1,"f":0.175},{"p":"d","m":"M","k":"8.0","t":2,"f":0.075},{"p":"d","m":"M","k":"8.0","t":5,"f":0.025},{"p":"d","m":"M","k":"8.0","t":10,"f":0.01},{"p":"d","m":"M","k":"8.0","t":20,"f":0},{"p":"d","m":"M","k":"8.0","t":50,"f":0},{"p":"d","m":"M","k":"8.0","t":100,"f":0},{"p":"d","m":"M","k":"8.0","t":150,"f":0},
{"p":"d","m":"M","k":"9.0","t":0.01,"f":0.9},{"p":"d","m":"M","k":"9.0","t":0.02,"f":0.79},{"p":"d","m":"M","k":"9.0","t":0.05,"f":0.53},{"p":"d","m":"M","k":"9.0","t":0.1,"f":0.34},{"p":"d","m":"M","k":"9.0","t":0.2,"f":0.16},{"p":"d","m":"M","k":"9.0","t":0.5,"f":0.04},{"p":"d","m":"M","k":"9.0","t":1,"f":0.01},{"p":"d","m":"M","k":"9.0","t":2,"f":0},{"p":"d","m":"M","k":"9.0","t":5,"f":0},{"p":"d","m":"M","k":"9.0","t":10,"f":0},{"p":"d","m":"M","k":"9.0","t":20,"f":0},{"p":"d","m":"M","k":"9.0","t":50,"f":0},{"p":"d","m":"M","k":"9.0","t":100,"f":0},{"p":"d","m":"M","k":"9.0","t":150,"f":0},
{"p":"d","m":"M","k":"10.0","t":0.01,"f":0.9},{"p":"d","m":"M","k":"10.0","t":0.02,"f":0.79},{"p":"d","m":"M","k":"10.0","t":0.05,"f":0.53},{"p":"d","m":"M","k":"10.0","t":0.1,"f":0.34},{"p":"d","m":"M","k":"10.0","t":0.2,"f":0.16},{"p":"d","m":"M","k":"10.0","t":0.5,"f":0.04},{"p":"d","m":"M","k":"10.0","t":1,"f":0.01},{"p":"d","m":"M","k":"10.0","t":2,"f":0},{"p":"d","m":"M","k":"10.0","t":5,"f":0},{"p":"d","m":"M","k":"10.0","t":10,"f":0},{"p":"d","m":"M","k":"10.0","t":20,"f":0},{"p":"d","m":"M","k":"10.0","t":50,"f":0},{"p":"d","m":"M","k":"10.0","t":100,"f":0},{"p":"d","m":"M","k":"10.0","t":150,"f":0},
{"p":"d","m":"M","k":"20.0","t":0.01,"f":0.9},{"p":"d","m":"M","k":"20.0","t":0.02,"f":0.79},{"p":"d","m":"M","k":"20.0","t":0.05,"f":0.53},{"p":"d","m":"M","k":"20.0","t":0.1,"f":0.34},{"p":"d","m":"M","k":"20.0","t":0.2,"f":0.16},{"p":"d","m":"M","k":"20.0","t":0.5,"f":0.04},{"p":"d","m":"M","k":"20.0","t":1,"f":0.01},{"p":"d","m":"M","k":"20.0","t":2,"f":0},{"p":"d","m":"M","k":"20.0","t":5,"f":0},{"p":"d","m":"M","k":"20.0","t":10,"f":0},{"p":"d","m":"M","k":"20.0","t":20,"f":0},{"p":"d","m":"M","k":"20.0","t":50,"f":0},{"p":"d","m":"M","k":"20.0","t":100,"f":0},{"p":"d","m":"M","k":"20.0","t":150,"f":0},
{"p":"d","m":"M","k":"30.0","t":0.01,"f":0.9},{"p":"d","m":"M","k":"30.0","t":0.02,"f":0.79},{"p":"d","m":"M","k":"30.0","t":0.05,"f":0.53},{"p":"d","m":"M","k":"30.0","t":0.1,"f":0.34},{"p":"d","m":"M","k":"30.0","t":0.2,"f":0.16},{"p":"d","m":"M","k":"30.0","t":0.5,"f":0.04},{"p":"d","m":"M","k":"30.0","t":1,"f":0.01},{"p":"d","m":"M","k":"30.0","t":2,"f":0},{"p":"d","m":"M","k":"30.0","t":5,"f":0},{"p":"d","m":"M","k":"30.0","t":10,"f":0},{"p":"d","m":"M","k":"30.0","t":20,"f":0},{"p":"d","m":"M","k":"30.0","t":50,"f":0},{"p":"d","m":"M","k":"30.0","t":100,"f":0},{"p":"d","m":"M","k":"30.0","t":150,"f":0},
{"p":"d","m":"I","k":"7.0","t":0.01,"f":0.92},{"p":"d","m":"I","k":"7.0","t":0.02,"f":0.86},{"p":"d","m":"I","k":"7.0","t":0.05,"f":0.7},{"p":"d","m":"I","k":"7.0","t":0.1,"f":0.52},{"p":"d","m":"I","k":"7.0","t":0.2,"f":0.33},{"p":"d","m":"I","k":"7.0","t":0.5,"f":0.17},{"p":"d","m":"I","k":"7.0","t":1,"f":0.1},{"p":"d","m":"I","k":"7.0","t":2,"f":0.06},{"p":"d","m":"I","k":"7.0","t":5,"f":0.045},{"p":"d","m":"I","k":"7.0","t":10,"f":0.04},{"p":"d","m":"I","k":"7.0","t":20,"f":0.035},{"p":"d","m":"I","k":"7.0","t":50,"f":0.03},{"p":"d","m":"I","k":"7.0","t":100,"f":0.03},{"p":"d","m":"I","k":"7.0","t":150,"f":0.03},
{"p":"d","m":"I","k":"8.0","t":0.01,"f":0.92},{"p":"d","m":"I","k":"8.0","t":0.02,"f":0.86},{"p":"d","m":"I","k":"8.0","t":0.05,"f":0.72},{"p":"d","m":"I","k":"8.0","t":0.1,"f":0.55},{"p":"d","m":"I","k":"8.0","t":0.2,"f":0.36},{"p":"d","m":"I","k":"8.0","t":0.5,"f":0.2},{"p":"d","m":"I","k":"8.0","t":1,"f":0.12},{"p":"d","m":"I","k":"8.0","t":2,"f":0.08},{"p":"d","m":"I","k":"8.0","t":5,"f":0.065},{"p":"d","m":"I","k":"8.0","t":10,"f":0.06},{"p":"d","m":"I","k":"8.0","t":20,"f":0.055},{"p":"d","m":"I","k":"8.0","t":50,"f":0.05},{"p":"d","m":"I","k":"8.0","t":100,"f":0.05},{"p":"d","m":"I","k":"8.0","t":150,"f":0.05},
{"p":"d","m":"I","k":"9.0","t":0.01,"f":0.9},{"p":"d","m":"I","k":"9.0","t":0.02,"f":0.82},{"p":"d","m":"I","k":"9.0","t":0.05,"f":0.61},{"p":"d","m":"I","k":"9.0","t":0.1,"f":0.45},{"p":"d","m":"I","k":"9.0","t":0.2,"f":0.35},{"p":"d","m":"I","k":"9.0","t":0.5,"f":0.32},{"p":"d","m":"I","k":"9.0","t":1,"f":0.32},{"p":"d","m":"I","k":"9.0","t":2,"f":0.32},{"p":"d","m":"I","k":"9.0","t":5,"f":0.32},{"p":"d","m":"I","k":"9.0","t":10,"f":0.32},{"p":"d","m":"I","k":"9.0","t":20,"f":0.32},{"p":"d","m":"I","k":"9.0","t":50,"f":0.32},{"p":"d","m":"I","k":"9.0","t":100,"f":0.32},{"p":"d","m":"I","k":"9.0","t":150,"f":0.32},
{"p":"d","m":"I","k":"10.0","t":0.01,"f":0.9},{"p":"d","m":"I","k":"10.0","t":0.02,"f":0.82},{"p":"d","m":"I","k":"10.0","t":0.05,"f":0.62},{"p":"d","m":"I","k":"10.0","t":0.1,"f":0.47},{"p":"d","m":"I","k":"10.0","t":0.2,"f":0.38},{"p":"d","m":"I","k":"10.0","t":0.5,"f":0.36},{"p":"d","m":"I","k":"10.0","t":1,"f":0.36},{"p":"d","m":"I","k":"10.0","t":2,"f":0.36},{"p":"d","m":"I","k":"10.0","t":5,"f":0.36},{"p":"d","m":"I","k":"10.0","t":10,"f":0.36},{"p":"d","m":"I","k":"10.0","t":20,"f":0.36},{"p":"d","m":"I","k":"10.0","t":50,"f":0.36},{"p":"d","m":"I","k":"10.0","t":100,"f":0.36},{"p":"d","m":"I","k":"10.0","t":150,"f":0.36},
{"p":"d","m":"I","k":"20.0","t":0.01,"f":0.9},{"p":"d","m":"I","k":"20.0","t":0.02,"f":0.83},{"p":"d","m":"I","k":"20.0","t":0.05,"f":0.68},{"p":"d","m":"I","k":"20.0","t":0.1,"f":0.63},{"p":"d","m":"I","k":"20.0","t":0.2,"f":0.61},{"p":"d","m":"I","k":"20.0","t":0.5,"f":0.61},{"p":"d","m":"I","k":"20.0","t":1,"f":0.61},{"p":"d","m":"I","k":"20.0","t":2,"f":0.61},{"p":"d","m":"I","k":"20.0","t":5,"f":0.61},{"p":"d","m":"I","k":"20.0","t":10,"f":0.61},{"p":"d","m":"I","k":"20.0","t":20,"f":0.61},{"p":"d","m":"I","k":"20.0","t":50,"f":0.61},{"p":"d","m":"I","k":"20.0","t":100,"f":0.61},{"p":"d","m":"I","k":"20.0","t":150,"f":0.61},
{"p":"d","m":"I","k":"30.0","t":0.01,"f":0.9},{"p":"d","m":"I","k":"30.0","t":0.02,"f":0.8},{"p":"d","m":"I","k":"30.0","t":0.05,"f":0.74},{"p":"d","m":"I","k":"30.0","t":0.1,"f":0.72},{"p":"d","m":"I","k":"30.0","t":0.2,"f":0.72},{"p":"d","m":"I","k":"30.0","t":0.5,"f":0.72},{"p":"d","m":"I","k":"30.0","t":1,"f":0.72},{"p":"d","m":"I","k":"30.0","t":2,"f":0.72},{"p":"d","m":"I","k":"30.0","t":5,"f":0.72},{"p":"d","m":"I","k":"30.0","t":10,"f":0.72},{"p":"d","m":"I","k":"30.0","t":20,"f":0.72},{"p":"d","m":"I","k":"30.0","t":50,"f":0.72},{"p":"d","m":"I","k":"30.0","t":100,"f":0.72},{"p":"d","m":"I","k":"30.0","t":150,"f":0.72}
]},
"concat": [
{"width": 186, "height": 145,
 "resolve": {"scale": {"x": "independent", "y": "independent"}, "axis": {"x": "independent", "y": "independent"}},
 "layer": [
  {"transform": [{"filter": "datum.p=='a' && datum.m=='M'"}],
   "mark": {"type": "line", "strokeWidth": 1.6, "interpolate": "monotone", "clip": true},
   "encoding": {
    "x": {"field": "t", "type": "quantitative", "scale": {"type": "log", "domain": [0.01, 200], "nice": false},
      "axis": {"title": "tDₒ/a²", "orient": "bottom", "values": [0.01,0.02,0.03,0.04,0.05,0.06,0.07,0.08,0.09,0.1,0.2,0.3,0.4,0.5,0.6,0.7,0.8,0.9,1,2,3,4,5,6,7,8,9,10,20,30,40,50,60,70,80,90,100,200],
        "labelExpr": "datum.value==0.01?'0.01':datum.value==1?'1':datum.value==100?'100':''",
        "tickSize": {"condition": {"test": "indexof([0.01,0.1,1,10,100],datum.value)>=0", "value": -5}, "value": -2.5},
        "labelPadding": 5, "labelFontSize": 9, "titleFontSize": 16, "titlePadding": 0, "labelFlush": false, "labelOverlap": false}},
    "y": {"field": "f", "type": "quantitative", "scale": {"domain": [-0.1, 1], "nice": false, "zero": false},
      "axis": {"title": "Fₛ (q,t)", "orient": "left", "values": [-0.1,0,0.1,0.2,0.3,0.4,0.5,0.6,0.7,0.8,0.9,1],
        "labelExpr": "datum.value>=0 && round(datum.value*10)%2==0 ? format(datum.value,'.1~f') : ''",
        "tickSize": {"condition": {"test": "round(datum.value*10)%2==0", "value": -5}, "value": -2.5},
        "labelPadding": 8, "labelFontSize": 9, "titleFontSize": 16, "titlePadding": 3, "labelFlush": false, "labelOverlap": false}},
    "color": {"field": "k", "type": "nominal", "scale": {"domain": ["0.0","0.1","0.2","0.3","0.4","0.5"], "range": ["#c49c9c","#000000","#ff0000","#009a00","#0000ff","#ffa500"]},
      "legend": {"orient": "none", "legendX": 7, "legendY": 87, "title": null, "labelExpr": "'k = ' + datum.label"}},
    "strokeDash": {"field": "k", "type": "nominal", "scale": {"domain": ["0.0","0.1","0.2","0.3","0.4","0.5"], "range": [[1,0],[1,0],[1,0],[5,2,1,2],[5,2,1,2],[5,2,1,2]]},
      "legend": {"orient": "none", "legendX": 7, "legendY": 87, "title": null, "labelExpr": "'k = ' + datum.label"}}
   }},
  {"layer": [
    {"data": {"values": [{}]}, "mark": {"type": "rect", "fill": "white", "stroke": "black", "strokeWidth": 1},
     "encoding": {"x": {"datum": 0.01, "type": "quantitative", "scale": {"type": "log", "domain": [0.01, 200], "nice": false, "range": [95, 186]},
        "axis": {"title": null, "orient": "bottom", "offset": -79, "zindex": 2, "values": [0.01,0.02,0.03,0.04,0.05,0.06,0.07,0.08,0.09,0.1,0.2,0.3,0.4,0.5,0.6,0.7,0.8,0.9,1,2,3,4,5,6,7,8,9,10,20,30,40,50,60,70,80,90,100],
         "labelExpr": "indexof([0.01,0.1,1,10,100],datum.value)>=0 ? format(datum.value,'~g') : ''",
         "tickSize": {"condition": {"test": "indexof([0.01,0.1,1,10,100],datum.value)>=0", "value": -3}, "value": -1.5},
         "labelPadding": 4, "labelFontSize": 5, "labelFlush": false, "labelOverlap": false, "domain": false}},
       "x2": {"datum": 200},
       "y": {"datum": -0.1, "type": "quantitative", "scale": {"domain": [-0.1, 1], "nice": false, "zero": false, "range": [66, 0]},
        "axis": {"title": "Fₛ (q,t)", "orient": "left", "offset": -95, "zindex": 2, "values": [0,0.2,0.4,0.6,0.8],
         "format": ".1~f", "tickSize": 2, "labelAlign": "right",
         "labelPadding": 4, "labelFontSize": 5, "titleFontSize": 6.5, "titlePadding": 2, "labelFlush": false, "labelOverlap": false, "domain": false}},
       "y2": {"datum": 1}}},
    {"transform": [{"filter": "datum.p=='a' && datum.m=='I'"}],
     "mark": {"type": "line", "strokeWidth": 1.3, "interpolate": "monotone"},
     "encoding": {
      "x": {"field": "t", "type": "quantitative"},
      "y": {"field": "f", "type": "quantitative"},
      "color": {"field": "k", "type": "nominal"},
      "strokeDash": {"field": "k", "type": "nominal"}
     }},
    {"data": {"values": [{"lab": "(a)"}]}, "mark": {"type": "text", "align": "left", "baseline": "middle", "dx": 3, "dy": 6, "font": "Liberation Serif", "fontWeight": "bold", "fontSize": 10},
     "encoding": {"x": {"datum": 200, "type": "quantitative"}, "y": {"datum": 1, "type": "quantitative"}, "text": {"field": "lab"}}}
  ]}
 ]},
{"width": 186, "height": 145,
 "resolve": {"scale": {"x": "independent", "y": "independent"}, "axis": {"x": "independent", "y": "independent"}},
 "layer": [
  {"transform": [{"filter": "datum.p=='b' && datum.m=='M'"}],
   "mark": {"type": "line", "strokeWidth": 1.6, "interpolate": "monotone", "clip": true},
   "encoding": {
    "x": {"field": "t", "type": "quantitative", "scale": {"type": "log", "domain": [0.01, 200], "nice": false},
      "axis": {"title": "tDₒ/a²", "orient": "bottom", "values": [0.01,0.02,0.03,0.04,0.05,0.06,0.07,0.08,0.09,0.1,0.2,0.3,0.4,0.5,0.6,0.7,0.8,0.9,1,2,3,4,5,6,7,8,9,10,20,30,40,50,60,70,80,90,100,200],
        "labelExpr": "datum.value==0.01?'0.01':datum.value==1?'1':datum.value==100?'100':''",
        "tickSize": {"condition": {"test": "indexof([0.01,0.1,1,10,100],datum.value)>=0", "value": -5}, "value": -2.5},
        "labelPadding": 5, "labelFontSize": 9, "titleFontSize": 16, "titlePadding": 0, "labelFlush": false, "labelOverlap": false}},
    "y": {"field": "f", "type": "quantitative", "scale": {"domain": [-0.1, 1], "nice": false, "zero": false},
      "axis": {"title": "Fₛ (q,t)", "orient": "left", "values": [-0.1,0,0.1,0.2,0.3,0.4,0.5,0.6,0.7,0.8,0.9,1],
        "labelExpr": "datum.value>=0 && round(datum.value*10)%2==0 ? format(datum.value,'.1~f') : ''",
        "tickSize": {"condition": {"test": "round(datum.value*10)%2==0", "value": -5}, "value": -2.5},
        "labelPadding": 8, "labelFontSize": 9, "titleFontSize": 16, "titlePadding": 3, "labelFlush": false, "labelOverlap": false}},
    "color": {"field": "k", "type": "nominal", "scale": {"domain": ["0.5","0.6","0.7","0.8","0.9","1.0"], "range": ["#c49c9c","#000000","#ff0000","#009a00","#0000ff","#ffa500"]},
      "legend": {"orient": "none", "legendX": 7, "legendY": 87, "title": null, "labelExpr": "'k = ' + datum.label"}},
    "strokeDash": {"field": "k", "type": "nominal", "scale": {"domain": ["0.5","0.6","0.7","0.8","0.9","1.0"], "range": [[1,0],[1,0],[1,0],[5,2,1,2],[5,2,1,2],[5,2,1,2]]},
      "legend": {"orient": "none", "legendX": 7, "legendY": 87, "title": null, "labelExpr": "'k = ' + datum.label"}}
   }},
  {"layer": [
    {"data": {"values": [{}]}, "mark": {"type": "rect", "fill": "white", "stroke": "black", "strokeWidth": 1},
     "encoding": {"x": {"datum": 0.01, "type": "quantitative", "scale": {"type": "log", "domain": [0.01, 200], "nice": false, "range": [95, 186]},
        "axis": {"title": null, "orient": "bottom", "offset": -79, "zindex": 2, "values": [0.01,0.02,0.03,0.04,0.05,0.06,0.07,0.08,0.09,0.1,0.2,0.3,0.4,0.5,0.6,0.7,0.8,0.9,1,2,3,4,5,6,7,8,9,10,20,30,40,50,60,70,80,90,100],
         "labelExpr": "indexof([0.01,0.1,1,10,100],datum.value)>=0 ? format(datum.value,'~g') : ''",
         "tickSize": {"condition": {"test": "indexof([0.01,0.1,1,10,100],datum.value)>=0", "value": -3}, "value": -1.5},
         "labelPadding": 4, "labelFontSize": 5, "labelFlush": false, "labelOverlap": false, "domain": false}},
       "x2": {"datum": 200},
       "y": {"datum": -0.1, "type": "quantitative", "scale": {"domain": [-0.1, 1], "nice": false, "zero": false, "range": [66, 0]},
        "axis": {"title": "Fₛ (q,t)", "orient": "left", "offset": -95, "zindex": 2, "values": [0,0.2,0.4,0.6,0.8],
         "format": ".1~f", "tickSize": 2, "labelAlign": "right",
         "labelPadding": 4, "labelFontSize": 5, "titleFontSize": 6.5, "titlePadding": 2, "labelFlush": false, "labelOverlap": false, "domain": false}},
       "y2": {"datum": 1}}},
    {"transform": [{"filter": "datum.p=='b' && datum.m=='I'"}],
     "mark": {"type": "line", "strokeWidth": 1.3, "interpolate": "monotone"},
     "encoding": {
      "x": {"field": "t", "type": "quantitative"},
      "y": {"field": "f", "type": "quantitative"},
      "color": {"field": "k", "type": "nominal"},
      "strokeDash": {"field": "k", "type": "nominal"}
     }},
    {"data": {"values": [{"lab": "(b)"}]}, "mark": {"type": "text", "align": "left", "baseline": "middle", "dx": 3, "dy": 6, "font": "Liberation Serif", "fontWeight": "bold", "fontSize": 10},
     "encoding": {"x": {"datum": 200, "type": "quantitative"}, "y": {"datum": 1, "type": "quantitative"}, "text": {"field": "lab"}}}
  ]}
 ]},
{"width": 186, "height": 145,
 "resolve": {"scale": {"x": "independent", "y": "independent"}, "axis": {"x": "independent", "y": "independent"}},
 "layer": [
  {"transform": [{"filter": "datum.p=='c' && datum.m=='M'"}],
   "mark": {"type": "line", "strokeWidth": 1.6, "interpolate": "monotone", "clip": true},
   "encoding": {
    "x": {"field": "t", "type": "quantitative", "scale": {"type": "log", "domain": [0.01, 200], "nice": false},
      "axis": {"title": "tDₒ/a²", "orient": "bottom", "values": [0.01,0.02,0.03,0.04,0.05,0.06,0.07,0.08,0.09,0.1,0.2,0.3,0.4,0.5,0.6,0.7,0.8,0.9,1,2,3,4,5,6,7,8,9,10,20,30,40,50,60,70,80,90,100,200],
        "labelExpr": "datum.value==0.01?'0.01':datum.value==1?'1':datum.value==100?'100':''",
        "tickSize": {"condition": {"test": "indexof([0.01,0.1,1,10,100],datum.value)>=0", "value": -5}, "value": -2.5},
        "labelPadding": 5, "labelFontSize": 9, "titleFontSize": 16, "titlePadding": 0, "labelFlush": false, "labelOverlap": false}},
    "y": {"field": "f", "type": "quantitative", "scale": {"domain": [-0.1, 1], "nice": false, "zero": false},
      "axis": {"title": "Fₛ (q,t)", "orient": "left", "values": [-0.1,0,0.1,0.2,0.3,0.4,0.5,0.6,0.7,0.8,0.9,1],
        "labelExpr": "datum.value>=0 && round(datum.value*10)%2==0 ? format(datum.value,'.1~f') : ''",
        "tickSize": {"condition": {"test": "round(datum.value*10)%2==0", "value": -5}, "value": -2.5},
        "labelPadding": 8, "labelFontSize": 9, "titleFontSize": 16, "titlePadding": 3, "labelFlush": false, "labelOverlap": false}},
    "color": {"field": "k", "type": "nominal", "scale": {"domain": ["1.0","2.0","3.0","4.0","5.0","6.0"], "range": ["#c49c9c","#000000","#ff0000","#009a00","#0000ff","#ffa500"]},
      "legend": {"orient": "none", "legendX": 7, "legendY": 87, "title": null, "labelExpr": "'k = ' + datum.label"}},
    "strokeDash": {"field": "k", "type": "nominal", "scale": {"domain": ["1.0","2.0","3.0","4.0","5.0","6.0"], "range": [[1,0],[1,0],[1,0],[5,2,1,2],[5,2,1,2],[5,2,1,2]]},
      "legend": {"orient": "none", "legendX": 7, "legendY": 87, "title": null, "labelExpr": "'k = ' + datum.label"}}
   }},
  {"layer": [
    {"data": {"values": [{}]}, "mark": {"type": "rect", "fill": "white", "stroke": "black", "strokeWidth": 1},
     "encoding": {"x": {"datum": 0.01, "type": "quantitative", "scale": {"type": "log", "domain": [0.01, 200], "nice": false, "range": [95, 186]},
        "axis": {"title": null, "orient": "bottom", "offset": -79, "zindex": 2, "values": [0.01,0.02,0.03,0.04,0.05,0.06,0.07,0.08,0.09,0.1,0.2,0.3,0.4,0.5,0.6,0.7,0.8,0.9,1,2,3,4,5,6,7,8,9,10,20,30,40,50,60,70,80,90,100],
         "labelExpr": "indexof([0.01,0.1,1,10,100],datum.value)>=0 ? format(datum.value,'~g') : ''",
         "tickSize": {"condition": {"test": "indexof([0.01,0.1,1,10,100],datum.value)>=0", "value": -3}, "value": -1.5},
         "labelPadding": 4, "labelFontSize": 5, "labelFlush": false, "labelOverlap": false, "domain": false}},
       "x2": {"datum": 200},
       "y": {"datum": -0.1, "type": "quantitative", "scale": {"domain": [-0.1, 1], "nice": false, "zero": false, "range": [66, 0]},
        "axis": {"title": "Fₛ (q,t)", "orient": "left", "offset": -95, "zindex": 2, "values": [0,0.2,0.4,0.6,0.8],
         "format": ".1~f", "tickSize": 2, "labelAlign": "right",
         "labelPadding": 4, "labelFontSize": 5, "titleFontSize": 6.5, "titlePadding": 2, "labelFlush": false, "labelOverlap": false, "domain": false}},
       "y2": {"datum": 1}}},
    {"transform": [{"filter": "datum.p=='c' && datum.m=='I'"}],
     "mark": {"type": "line", "strokeWidth": 1.3, "interpolate": "monotone"},
     "encoding": {
      "x": {"field": "t", "type": "quantitative"},
      "y": {"field": "f", "type": "quantitative"},
      "color": {"field": "k", "type": "nominal"},
      "strokeDash": {"field": "k", "type": "nominal"}
     }},
    {"data": {"values": [{"lab": "(c)"}]}, "mark": {"type": "text", "align": "left", "baseline": "middle", "dx": 3, "dy": 6, "font": "Liberation Serif", "fontWeight": "bold", "fontSize": 10},
     "encoding": {"x": {"datum": 200, "type": "quantitative"}, "y": {"datum": 1, "type": "quantitative"}, "text": {"field": "lab"}}}
  ]}
 ]},
{"width": 186, "height": 145,
 "resolve": {"scale": {"x": "independent", "y": "independent"}, "axis": {"x": "independent", "y": "independent"}},
 "layer": [
  {"transform": [{"filter": "datum.p=='d' && datum.m=='M'"}],
   "mark": {"type": "line", "strokeWidth": 1.6, "interpolate": "monotone", "clip": true},
   "encoding": {
    "x": {"field": "t", "type": "quantitative", "scale": {"type": "log", "domain": [0.01, 200], "nice": false},
      "axis": {"title": "tDₒ/a²", "orient": "bottom", "values": [0.01,0.02,0.03,0.04,0.05,0.06,0.07,0.08,0.09,0.1,0.2,0.3,0.4,0.5,0.6,0.7,0.8,0.9,1,2,3,4,5,6,7,8,9,10,20,30,40,50,60,70,80,90,100,200],
        "labelExpr": "datum.value==0.01?'0.01':datum.value==1?'1':datum.value==100?'100':''",
        "tickSize": {"condition": {"test": "indexof([0.01,0.1,1,10,100],datum.value)>=0", "value": -5}, "value": -2.5},
        "labelPadding": 5, "labelFontSize": 9, "titleFontSize": 16, "titlePadding": 0, "labelFlush": false, "labelOverlap": false}},
    "y": {"field": "f", "type": "quantitative", "scale": {"domain": [-0.1, 1], "nice": false, "zero": false},
      "axis": {"title": "Fₛ (q,t)", "orient": "left", "values": [-0.1,0,0.1,0.2,0.3,0.4,0.5,0.6,0.7,0.8,0.9,1],
        "labelExpr": "datum.value>=0 && round(datum.value*10)%2==0 ? format(datum.value,'.1~f') : ''",
        "tickSize": {"condition": {"test": "round(datum.value*10)%2==0", "value": -5}, "value": -2.5},
        "labelPadding": 8, "labelFontSize": 9, "titleFontSize": 16, "titlePadding": 3, "labelFlush": false, "labelOverlap": false}},
    "color": {"field": "k", "type": "nominal", "scale": {"domain": ["7.0","8.0","9.0","10.0","20.0","30.0"], "range": ["#c49c9c","#000000","#ff0000","#009a00","#0000ff","#ffa500"]},
      "legend": {"orient": "none", "legendX": 7, "legendY": 87, "title": null, "labelExpr": "'k = ' + datum.label"}},
    "strokeDash": {"field": "k", "type": "nominal", "scale": {"domain": ["7.0","8.0","9.0","10.0","20.0","30.0"], "range": [[1,0],[1,0],[1,0],[5,2,1,2],[5,2,1,2],[5,2,1,2]]},
      "legend": {"orient": "none", "legendX": 7, "legendY": 87, "title": null, "labelExpr": "'k = ' + datum.label"}}
   }},
  {"layer": [
    {"data": {"values": [{}]}, "mark": {"type": "rect", "fill": "white", "stroke": "black", "strokeWidth": 1},
     "encoding": {"x": {"datum": 0.01, "type": "quantitative", "scale": {"type": "log", "domain": [0.01, 200], "nice": false, "range": [95, 186]},
        "axis": {"title": null, "orient": "bottom", "offset": -79, "zindex": 2, "values": [0.01,0.02,0.03,0.04,0.05,0.06,0.07,0.08,0.09,0.1,0.2,0.3,0.4,0.5,0.6,0.7,0.8,0.9,1,2,3,4,5,6,7,8,9,10,20,30,40,50,60,70,80,90,100],
         "labelExpr": "indexof([0.01,0.1,1,10,100],datum.value)>=0 ? format(datum.value,'~g') : ''",
         "tickSize": {"condition": {"test": "indexof([0.01,0.1,1,10,100],datum.value)>=0", "value": -3}, "value": -1.5},
         "labelPadding": 4, "labelFontSize": 5, "labelFlush": false, "labelOverlap": false, "domain": false}},
       "x2": {"datum": 200},
       "y": {"datum": -0.1, "type": "quantitative", "scale": {"domain": [-0.1, 1], "nice": false, "zero": false, "range": [66, 0]},
        "axis": {"title": "Fₛ (q,t)", "orient": "left", "offset": -95, "zindex": 2, "values": [0,0.2,0.4,0.6,0.8],
         "format": ".1~f", "tickSize": 2, "labelAlign": "right",
         "labelPadding": 4, "labelFontSize": 5, "titleFontSize": 6.5, "titlePadding": 2, "labelFlush": false, "labelOverlap": false, "domain": false}},
       "y2": {"datum": 1}}},
    {"transform": [{"filter": "datum.p=='d' && datum.m=='I'"}],
     "mark": {"type": "line", "strokeWidth": 1.3, "interpolate": "monotone"},
     "encoding": {
      "x": {"field": "t", "type": "quantitative"},
      "y": {"field": "f", "type": "quantitative"},
      "color": {"field": "k", "type": "nominal"},
      "strokeDash": {"field": "k", "type": "nominal"}
     }},
    {"data": {"values": [{"lab": "(d)"}]}, "mark": {"type": "text", "align": "left", "baseline": "middle", "dx": 3, "dy": 6, "font": "Liberation Serif", "fontWeight": "bold", "fontSize": 10},
     "encoding": {"x": {"datum": 200, "type": "quantitative"}, "y": {"datum": 1, "type": "quantitative"}, "text": {"field": "lab"}}}
  ]}
 ]}
],
"resolve": {"scale": {"color": "independent", "strokeDash": "independent"}, "legend": {"color": "independent", "strokeDash": "independent"}},
"config": {
 "font": "Liberation Serif",
 "view": {"stroke": "black", "strokeWidth": 1},
 "axis": {"grid": false, "labelFont": "Liberation Serif", "labelFontWeight": "bold", "titleFont": "Liberation Serif", "titleFontWeight": "bold", "labelColor": "black", "titleColor": "black", "domainColor": "black", "tickColor": "black", "tickWidth": 0.8},
 "legend": {"labelFont": "Liberation Serif", "labelFontWeight": "bold", "labelFontSize": 8, "labelColor": "black", "symbolType": "M-1.5,0H1.5", "symbolSize": 64, "symbolStrokeWidth": 1.6, "rowPadding": 0, "padding": 0, "labelOffset": 3}
}
}
